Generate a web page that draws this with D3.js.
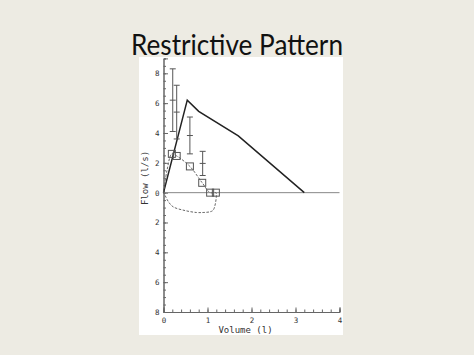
<!DOCTYPE html>
<meta charset="utf-8">
<style>
    body {
        margin: 0;
        background: #edebe3;
    }
    svg {
        display: block;
    }
    .tick text, .lab {
        font-family: "DejaVu Sans Mono", monospace;
        fill: #333;
    }
</style>
<body>
<div id="main"></div>
<script src="https://cdn.jsdelivr.net/npm/d3@7"></script>
<script>
    // predicted flow-volume curve (solid)
    var predVol  = [0, 0.54, 0.8, 1.7, 3.2];
    var predFlow = [0, 6.2, 5.45, 3.8, 0];

    // measured loop (dashed), expiration then inspiration (negative)
    var loopVol  = [0, 0.08, 0.19, 0.30, 0.60, 0.88, 1.06, 1.19, 1.2, 1.13, 1.06, 0.9, 0.75, 0.49, 0.22, 0.11, 0.03, 0];
    var loopFlow = [0, 1.5, 2.6, 2.46, 1.76, 0.66, 0, 0, -0.3, -1.17, -1.28, -1.33, -1.33, -1.2, -0.95, -0.6, -0.15, 0];

    // square markers on the loop
    var sqVol  = [0.19, 0.30, 0.60, 0.88, 1.06, 1.19];
    var sqFlow = [2.6, 2.46, 1.76, 0.66, 0, 0];

    // error bars: volume, low, mid, high
    var errVol  = [0.21, 0.30, 0.60, 0.89];
    var errLow  = [4.1, 3.6, 2.6, 1.15];
    var errMid  = [6.2, 5.4, 3.83, 1.96];
    var errHigh = [8.3, 7.2, 5.07, 2.77];

    var xTicks = [0, 1, 2, 3, 4];
    var yTicks = [-8, -6, -4, -2, 0, 2, 4, 6, 8];

    var width = 474, height = 355;

    var svg = d3.select("#main").append("svg")
        .attr("width", width)
        .attr("height", height);

    // title
    svg.append("text")
        .attr("x", 237)
        .attr("y", 55)
        .attr("text-anchor", "middle")
        .attr("textLength", 212)
        .attr("lengthAdjust", "spacingAndGlyphs")
        .style("font-family", "Lato, 'Open Sans', sans-serif")
        .style("font-size", "29px")
        .style("fill", "#111")
        .text("Restrictive Pattern");

    // white panel
    svg.append("rect")
        .attr("x", 139).attr("y", 57)
        .attr("width", 204).attr("height", 278)
        .attr("fill", "#fff");

    var x = d3.scaleLinear().domain([0, 4]).range([163.5, 339.5]);
    var y = d3.scaleLinear().domain([-8, 9]).range([312, 58.4]);

    var axisColor = "#666";

    // x axis (ticks pointing up, minor every 0.2)
    var gx = svg.append("g").attr("transform", "translate(0," + y(-8) + ")");
    gx.call(d3.axisBottom(x).tickValues(d3.range(0, 4.01, 0.2)).tickSize(-2.5).tickFormat(""));
    gx.call(function(g) {
        g.append("g").call(d3.axisBottom(x).tickValues(xTicks).tickSize(-4.5).tickPadding(4).tickFormat(d3.format("d")));
    });
    gx.selectAll("path.domain").attr("stroke", axisColor);
    gx.selectAll("line").attr("stroke", axisColor);
    gx.selectAll(".tick text").style("font-size", "7.5px").attr("dy", "0.9em");

    // y axis (ticks pointing right, minor every 0.5)
    var gy = svg.append("g").attr("transform", "translate(" + x(0) + ",0)");
    gy.call(d3.axisLeft(y).tickValues(d3.range(-8, 9.01, 0.5)).tickSize(-2.5).tickFormat(""));
    gy.call(function(g) {
        g.append("g").call(d3.axisLeft(y).tickValues(yTicks).tickSize(-4.5).tickPadding(4)
            .tickFormat(function(d) { return Math.abs(d); }));
    });
    gy.selectAll("path.domain").attr("stroke", axisColor);
    gy.selectAll("line").attr("stroke", axisColor);
    gy.selectAll(".tick text").style("font-size", "7.5px");

    // axis titles
    svg.append("text")
        .attr("class", "lab")
        .attr("x", (x(0) + x(4)) / 2 - 6)
        .attr("y", 333)
        .attr("text-anchor", "middle")
        .style("font-size", "9px")
        .text("Volume (l)");

    svg.append("text")
        .attr("class", "lab")
        .attr("transform", "translate(148," + 178 + ") rotate(-90)")
        .attr("text-anchor", "middle")
        .style("font-size", "9px")
        .text("Flow (l/s)");

    // zero line
    svg.append("line")
        .attr("x1", x(0)).attr("x2", x(4))
        .attr("y1", y(0)).attr("y2", y(0))
        .attr("stroke", "#888")
        .attr("stroke-width", 1);

    var line = d3.line()
        .x(function(d) { return x(d[0]); })
        .y(function(d) { return y(d[1]); });

    // predicted curve
    svg.append("path")
        .datum(d3.zip(predVol, predFlow))
        .attr("d", line)
        .attr("fill", "none")
        .attr("stroke", "#222")
        .attr("stroke-width", 1.5);

    // error bars
    var eb = svg.append("g").attr("stroke", "#555").attr("stroke-width", 1);
    errVol.forEach(function(v, i) {
        eb.append("line").attr("x1", x(v)).attr("x2", x(v)).attr("y1", y(errLow[i])).attr("y2", y(errHigh[i]));
        [errLow[i], errMid[i], errHigh[i]].forEach(function(f) {
            eb.append("line").attr("x1", x(v) - 3).attr("x2", x(v) + 3).attr("y1", y(f)).attr("y2", y(f));
        });
    });

    // measured loop
    svg.append("path")
        .datum(d3.zip(loopVol, loopFlow))
        .attr("d", line.curve(d3.curveCatmullRom))
        .attr("fill", "none")
        .attr("stroke", "#666")
        .attr("stroke-width", 1)
        .attr("stroke-dasharray", "2.5,1.5");

    // square markers
    svg.append("g").selectAll("rect")
        .data(d3.zip(sqVol, sqFlow))
        .join("rect")
        .attr("x", function(d) { return x(d[0]) - 3.5; })
        .attr("y", function(d) { return y(d[1]) - 3.5; })
        .attr("width", 7).attr("height", 7)
        .attr("fill", "none")
        .attr("stroke", "#555")
        .attr("stroke-width", 1);
</script>
</body>
